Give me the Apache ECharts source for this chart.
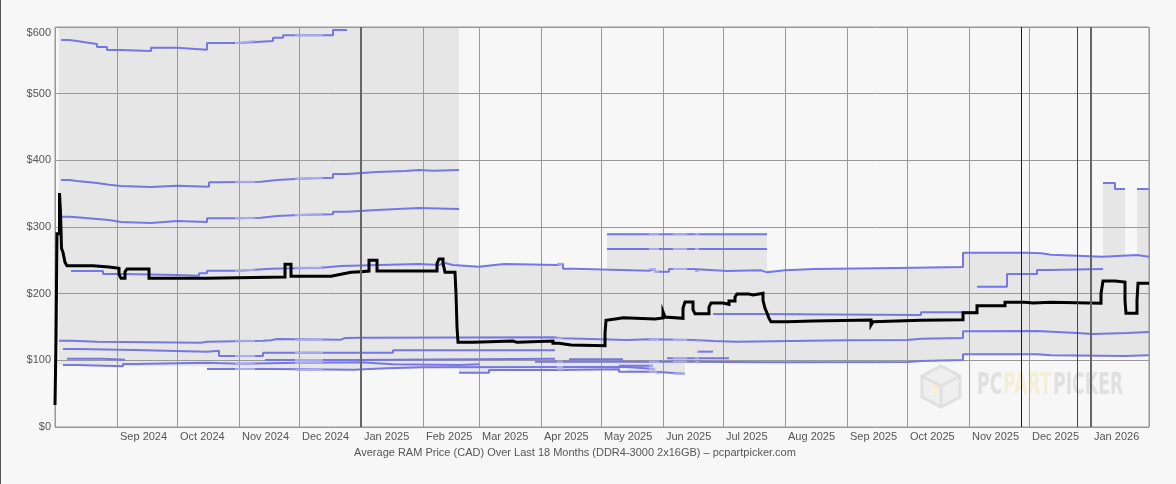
<!DOCTYPE html>
<html><head><meta charset="utf-8">
<script src="https://cdn.jsdelivr.net/npm/echarts@6/dist/echarts.min.js"></script>
<style>html,body{margin:0;padding:0;background:#f7f7f7;}#c{width:1176px;height:484px;}</style>
</head><body><div id="c"></div>
<script>
// ---------- DATA (price in CAD; each value holds until the next date; null ends a segment) ----------
const monthNames = ['Jan','Feb','Mar','Apr','May','Jun','Jul','Aug','Sep','Oct','Nov','Dec'];
const yTicks = [0,100,200,300,400,500,600];
const xStart = '2024-08-01';
const xEnd = '2026-01-30';

const avgPrice = [
 ['2024-08-01 00:00',33],['2024-08-01 12:00',130],['2024-08-02 00:00',290],['2024-08-03 06:00',351],
 ['2024-08-03 18:00',322],['2024-08-04 06:00',268],['2024-08-05',262],['2024-08-06',247],['2024-08-07',242],
 ['2024-08-20',240],['2024-08-28',238],['2024-09-02',229],['2024-09-03',223],['2024-09-05',233],['2024-09-06',237],
 ['2024-09-17',223],['2024-10-16',225],['2024-11-24',244],['2024-11-27',226],['2024-12-17',229],['2024-12-22',232],
 ['2024-12-27',233],['2025-01-01',234],['2025-01-05',250],['2025-01-09',234],['2025-02-08',245],['2025-02-09',252],
 ['2025-02-11',246],['2025-02-12',232],['2025-02-17 00:00',232],['2025-02-17 12:00',200],['2025-02-18 00:00',150],
 ['2025-02-18 12:00',127],['2025-02-26',129],['2025-03-18',127],['2025-03-20',129],['2025-04-07',125.5],
 ['2025-04-10',123],['2025-04-16',122],['2025-05-03 00:00',140],['2025-05-03 12:00',160],['2025-05-04',162.5],
 ['2025-05-09',164],['2025-05-12',162],['2025-05-28',163.5],['2025-06-01',173],['2025-06-02',165],['2025-06-03',163],
 ['2025-06-11',178],['2025-06-12',187.5],['2025-06-16',176],['2025-06-17',170],['2025-06-24',180],['2025-06-25',186],
 ['2025-07-01',184],['2025-07-04',189],['2025-07-07',195],['2025-07-08',199.5],['2025-07-14',198],['2025-07-16',199.5],
 ['2025-07-19',200.5],['2025-07-21',190],['2025-07-22',178],['2025-07-23',171],['2025-07-24',163],['2025-07-25',158],
 ['2025-08-02',159],['2025-08-15',160.5],['2025-09-13',153],['2025-09-14',158],['2025-09-15',160],['2025-10-08',161],
 ['2025-10-29',171.5],['2025-11-05',182],['2025-11-19',187],['2025-11-29',186],['2025-12-03',187],['2025-12-12',185.5],
 ['2026-01-06',200],['2026-01-07',219],['2026-01-13',217.5],['2026-01-18 00:00',190],['2026-01-18 12:00',170.5],
 ['2026-01-24 00:00',190],['2026-01-24 12:00',215.5],['2026-01-30',null]
];

// price range band (min .. max of all retailers)
const bandDates = ['2024-08-03','2024-08-12','2024-10-16','2024-11-18','2024-12-28','2025-02-19','2025-03-01','2025-03-06',
 '2025-03-10','2025-03-14','2025-04-09','2025-04-12','2025-04-17','2025-05-04','2025-05-14','2025-05-28','2025-06-12',
 '2025-07-23','2025-08-01','2025-08-16','2025-09-26','2025-10-08','2025-10-29','2025-11-30','2025-12-05','2025-12-07',
 '2025-12-12','2025-12-25','2026-01-07','2026-01-13','2026-01-18','2026-01-24','2026-01-30'];
const bandLow  = [93,91,87,86,88,81.5,81.5,85.5,85.5,85.5,86.5,86.5,86.5,86.5,83,80,97,97,97.5,97.5,99,100.5,109,109,107.5,107.5,106.5,106.5,106.5,106.5,107.5,107.5];
const bandHigh = [650,650,650,650,650,240.5,243.5,243.5,244.5,243,245,237.5,234.5,289,289,289,289,235,237,238.5,240,240,261.5,260.5,260.5,258.5,257,255.5,366,357,258,357];

// individual retailer prices
const retailer1 = [['2024-08-04',580.5],['2024-08-08',579],['2024-08-12',577],['2024-08-16',574.5],['2024-08-22',570],['2024-08-27',565.5],
 ['2024-09-03',564],['2024-09-18',569],['2024-10-01',566],['2024-10-16',576],['2024-11-01',579],['2024-11-18',584],['2024-11-23',587.5],['2024-12-18',595.5],['2024-12-25',null]];
const retailer2 = [['2024-08-04',370.5],['2024-08-08',369],['2024-08-12',367.5],['2024-08-17',366],['2024-08-22',363.5],['2024-08-28',361.5],
 ['2024-09-03',360],['2024-09-18',362],['2024-10-01',360.5],['2024-10-17',367],['2024-10-22',368],['2024-11-12',370.5],['2024-11-20',372.5],
 ['2024-12-01',374],['2024-12-18',379.5],['2024-12-25',382.5],['2025-01-09',384],['2025-01-23',385.5],['2025-01-30',384.5],['2025-02-06',385.5],['2025-02-19',null]];
const retailer3 = [['2024-08-04',315.5],['2024-08-08',314.5],['2024-08-12',312],['2024-08-22',310.5],['2024-08-28',307.5],['2024-09-03',306],
 ['2024-09-18',309],['2024-10-01',307.5],['2024-10-16',313],['2024-11-01',314],['2024-11-12',316.5],['2024-11-20',318],['2024-12-01',319],
 ['2024-12-18',323],['2024-12-25',325.5],['2025-01-09',328.5],['2025-01-30',327],['2025-02-19',null]];
const retailer4 = [['2024-08-09',234],['2024-08-25',229.5],['2024-09-04',228],['2024-10-01',227],['2024-10-12',230.5],['2024-10-16',234.5],
 ['2024-11-01',236],['2024-11-09',237.5],['2024-11-17',239],['2024-12-12',241.5],['2024-12-22',244.5],['2025-01-30',243],['2025-02-09',246],
 ['2025-02-12',243],['2025-02-16',240.5],['2025-03-01',243.5],['2025-03-10',244.5],['2025-03-14',243],['2025-04-09',245],['2025-04-12',237.5],
 ['2025-04-17',234.5],['2025-05-25',237],['2025-05-28',233],['2025-06-04',237],['2025-06-16',234],['2025-07-03',235],['2025-07-20',232],
 ['2025-07-23',235],['2025-08-01',237],['2025-08-16',238.5],['2025-09-26',240],['2025-10-29',261.5],['2025-11-30',260.5],['2025-12-07',258.5],
 ['2025-12-12',257],['2025-12-25',255.5],['2026-01-07',258],['2026-01-24',255.5],['2026-01-30',null]];
const retailer5 = [['2025-06-26',169.5],['2025-07-16',168],['2025-10-08',172],['2025-11-05',null]];
const retailer6 = [['2025-11-05',210.5],['2025-11-20',229.5],['2025-12-05',235.5],['2025-12-11',237],['2026-01-07',null]];
const retailer7 = [['2026-01-07',366],['2026-01-13',357],['2026-01-18',null],['2026-01-24',357],['2026-01-30',null]];
const retailer8 = [['2025-05-04',289],['2025-07-23',null]];
const retailer9 = [['2025-05-04',267],['2025-07-23',null]];
const retailer10 = [['2024-08-03',129.5],['2024-08-09',128],['2024-08-22',126.5],['2024-10-13',128],['2024-10-16',129.5],['2024-11-13',130],
 ['2024-11-17',132],['2024-11-20',131],['2024-12-22',133.5],['2024-12-24',134],['2025-01-01',134.5],['2025-04-07',133],['2025-04-12',130.5],
 ['2025-05-14',131.5],['2025-05-25',130.5],['2025-06-17',129],['2025-06-26',128],['2025-07-08',130],['2025-09-01',130.5],['2025-10-01',132.5],
 ['2025-10-08',133.5],['2025-10-29',143.5],['2025-11-01',144],['2025-12-05',141],['2025-12-25',139.5],['2026-01-02',141],['2026-01-19',142.5],['2026-01-30',null]];
const retailer11 = [['2024-08-05',117],['2024-08-12',115.5],['2024-09-10',113],['2024-10-16',114.5],['2024-10-22',106.5],['2024-11-13',111.5],['2025-01-17',115],['2025-04-08',null]];
const retailer12 = [['2024-08-07',102.5],['2024-08-25',101],['2024-09-05',null]];
const retailer13 = [['2024-11-14',100.5],['2024-12-28',102.5],['2025-04-08',null],['2025-04-15',101.5],['2025-05-12',null],['2025-06-03',103],['2025-07-04',null]];
const retailer14 = [['2024-08-05',93],['2024-08-12',91],['2024-09-04',94.5],['2024-09-10',96.5],['2024-10-16',95],['2024-11-01',96.5],['2024-12-01',97],
 ['2025-01-01',94],['2025-01-17',93],['2025-02-19',94],['2025-03-01',null]];
const retailer15 = [['2024-10-16',87],['2024-11-18',86],['2024-12-28',88],['2025-01-14',89.5],['2025-02-01',90],['2025-04-12',90],['2025-05-14',87],['2025-05-28',null]];
const retailer16 = [['2025-02-19',81.5],['2025-03-06',85.5],['2025-04-09',86.5],['2025-05-10',83],['2025-05-28',80],['2025-06-12',null]];
const retailer17 = [['2025-03-29',98],['2025-06-12',97],['2025-07-23',97],['2025-08-01',97.5],['2025-10-01',99],['2025-10-08',100.5],['2025-10-29',109],
 ['2025-12-05',107.5],['2025-12-12',106.5],['2026-01-18',107.5],['2026-01-30',null]];
const retailer18 = [['2025-05-10',92],['2025-05-27',null]];
const retailer19 = [['2025-06-18',113],['2025-06-26',null]];

// periods where retailer prices are shown faded (stale data)
const stalePeriods = [['2024-10-30','2024-11-09'],['2024-11-29','2024-12-13'],['2025-04-09','2025-04-12'],
  ['2025-05-25','2025-05-30'],['2025-06-06','2025-06-13'],['2025-06-17','2025-06-19']];

const eventDates = [
 {date:'2025-01-01', color:'#666666', width:2},
 {date:'2025-11-27', color:'#0000ee', width:1},
 {date:'2025-12-25', color:'#ee0000', width:1},
 {date:'2026-01-01', color:'#666666', width:2}
];

// ---------- helpers ----------
function t(s){
  const parts = s.split(' ');
  const [Y,M,D] = parts[0].split('-').map(Number);
  let hh=0, mm=0;
  if(parts[1]){ [hh,mm] = parts[1].split(':').map(Number); }
  return new Date(Y, M-1, D, hh, mm).getTime();
}
function steps(arr){
  const out = [];
  for(let i=0;i<arr.length;i++){
    const d = t(arr[i][0]), v = arr[i][1];
    if(v == null){ out.push([d, null]); continue; }
    out.push([d, v]);
    if(i+1 < arr.length) out.push([t(arr[i+1][0]), v]);
  }
  return out;
}
function sliceSteps(arr, a, b){
  const out = [];
  for(let i=0;i+1<arr.length;i++){
    const v = arr[i][1];
    if(v == null) continue;
    const s = Math.max(t(arr[i][0]), a), e = Math.min(t(arr[i+1][0]), b);
    if(e > s){ out.push([s, v], [e, v]); }
  }
  return out;
}

const BLUE = '#7676e4';
const FADED = '#aaaaec';
const retailers = [retailer1,retailer2,retailer3,retailer4,retailer5,retailer6,retailer7,retailer8,retailer9,retailer10,
  retailer11,retailer12,retailer13,retailer14,retailer15,retailer16,retailer17,retailer18,retailer19];

const bandSegs = bandDates.slice(0,-1).map((d,i)=>[t(d), t(bandDates[i+1]), bandLow[i], bandHigh[i]]);

const FONT = '"Liberation Sans", Arial, sans-serif';
const chart = echarts.init(document.getElementById('c'), null, {renderer:'canvas'});

const series = [];
series.push({
  type:'custom', z:-1, silent:true,
  data: [[t(xStart), 0]],
  renderItem(params, api){
    const cs = params.coordSys;
    const clip = {x:cs.x, y:cs.y, width:cs.width, height:cs.height};
    const children = [];
    bandSegs.forEach(s=>{
      const p1 = api.coord([s[0], Math.min(s[3], 600)]);
      const p2 = api.coord([s[1], s[2]]);
      const r = echarts.graphic.clipRectByRect({x:p1[0], y:p1[1], width:p2[0]-p1[0], height:p2[1]-p1[1]}, clip);
      if(r) children.push({type:'rect', shape:r, style:{fill:'#e6e6e6'}});
    });
    return {type:'group', children:children};
  }
});
series.push({
  type:'line', z:1, data:[[t(xStart), null]], silent:true,
  markLine:{silent:true, symbol:'none', label:{show:false}, animation:false,
    data: eventDates.map(e=>({xAxis:t(e.date), lineStyle:{color:e.color, width:e.width, type:'solid'}}))}
});
retailers.forEach(r=>{
  series.push({type:'line', z:2, data:steps(r), showSymbol:false, silent:true,
    lineStyle:{color:BLUE, width:2}, connectNulls:false});
  const faded = [];
  stalePeriods.forEach(p=>{
    const part = sliceSteps(r, t(p[0]), t(p[1]));
    if(part.length){ faded.push(...part); faded.push([part[part.length-1][0], null]); }
  });
  if(faded.length){
    series.push({type:'line', z:3, data:faded, showSymbol:false, silent:true,
      lineStyle:{color:FADED, width:2}, connectNulls:false});
  }
});
series.push({type:'line', z:4, data:steps(avgPrice), showSymbol:false, silent:true,
  lineStyle:{color:'#000', width:3, join:'miter'}});

const WM_FONT = '"DejaVu Sans Condensed", "DejaVu Sans", sans-serif';
chart.setOption({
  animation:false,
  backgroundColor:'#f7f7f7',
  grid:{left:55, right:27, top:27, bottom:57, show:true, borderColor:'#999', borderWidth:1, backgroundColor:'transparent', containLabel:false},
  xAxis:{
    type:'time', min:t(xStart), max:t(xEnd),
    minInterval: 28*86400000, maxInterval: 31*86400000,
    axisLine:{show:false}, axisTick:{show:false},
    splitLine:{show:true, lineStyle:{color:'#999', width:1}},
    axisLabel:{
      color:'#555', fontSize:11, fontFamily:FONT, align:'left', margin:4, padding:[0,0,0,3],
      hideOverlap:false,
      formatter:function(v){
        const d = new Date(v);
        if(v <= t(xStart) || d.getDate() !== 1 || d.getHours() !== 0) return '';
        return monthNames[d.getMonth()] + ' ' + d.getFullYear();
      }
    }
  },
  yAxis:{
    type:'value', min:yTicks[0], max:yTicks[yTicks.length-1], interval:100,
    axisLine:{show:false}, axisTick:{show:false},
    splitLine:{show:true, lineStyle:{color:'#999', width:1}},
    axisLabel:{color:'#555', fontSize:11, fontFamily:FONT, margin:4,
      formatter:function(v){ return v === 600 ? '{top|$' + v + '}' : '$' + v; },
      rich:{top:{padding:[11,0,0,0], color:'#555', fontSize:11, fontFamily:FONT}}
    }
  },
  graphic:[
    {type:'rect', shape:{x:0, y:0, width:1, height:484}, style:{fill:'#555'}, silent:true},
    {type:'text', x:575, y:453, silent:true, style:{text:'Average RAM Price (CAD) Over Last 18 Months (DDR4-3000 2x16GB) \u2013 pcpartpicker.com',
      fill:'#555', font:'11px ' + FONT, align:'center', verticalAlign:'middle'}},
    {type:'polygon', silent:true, z:-2, shape:{points:[[941,366],[960,376],[960,397],[941,407],[922,397],[922,376]]},
      style:{fill:'#efefef', stroke:'#e0e0e0', lineWidth:3}},
    {type:'polygon', silent:true, z:-2, shape:{points:[[932,380],[941,384],[941,396],[932,392]]}, style:{fill:'#f6efd9'}},
    {type:'polyline', silent:true, z:-2, shape:{points:[[922,376],[941,386],[960,376]]}, style:{stroke:'#e0e0e0', lineWidth:3, fill:null}},
    {type:'line', silent:true, z:-2, shape:{x1:941, y1:386, x2:941, y2:407}, style:{stroke:'#e0e0e0', lineWidth:3}},
    {type:'text', x:977, y:386, scaleX:0.64, silent:true, z:-2,
      style:{text:'PC', fill:'#e0e0e0', fontSize:30, fontWeight:'bold', fontFamily:WM_FONT, verticalAlign:'middle', align:'left'}},
    {type:'text', x:1003, y:386, scaleX:0.64, silent:true, z:-2,
      style:{text:'PART', fill:'#f5eed6', fontSize:30, fontWeight:'bold', fontFamily:WM_FONT, verticalAlign:'middle', align:'left'}},
    {type:'text', x:1053, y:386, scaleX:0.64, silent:true, z:-2,
      style:{text:'PICKER', fill:'#e0e0e0', fontSize:30, fontWeight:'bold', fontFamily:WM_FONT, verticalAlign:'middle', align:'left'}}
  ],
  series: series
});
</script></body></html>
